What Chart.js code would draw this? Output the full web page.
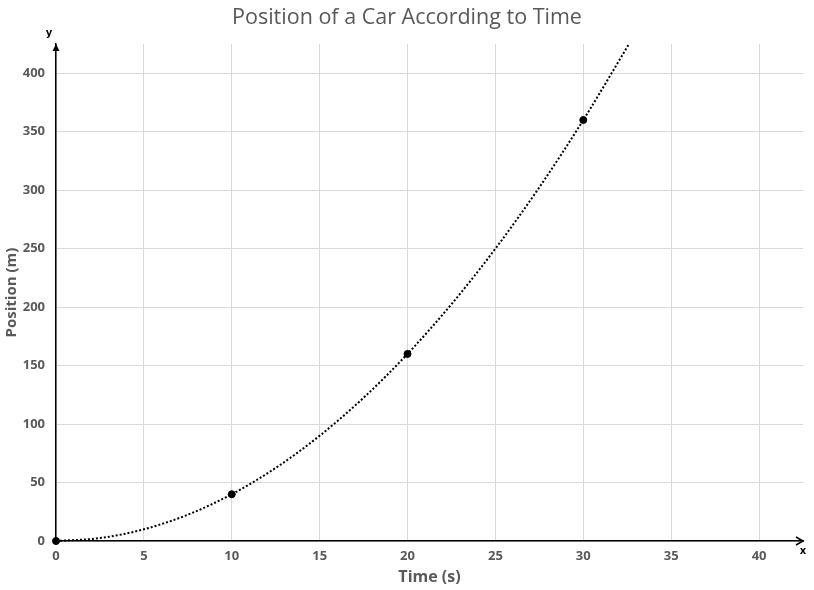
<!DOCTYPE html>
<html>
<head>
<meta charset="utf-8">
<script src="https://cdn.jsdelivr.net/npm/chart.js@4.4.0/dist/chart.umd.min.js"></script>
<style>
  html, body { margin: 0; padding: 0; background: #fff; }
  #wrap { width: 814px; height: 590px; }
</style>
</head>
<body>
<div id="wrap"><canvas id="car-chart"></canvas></div>
<script>
// measured points (time s, position m)
var time_values = [0, 10, 20, 30];
var position_values = [0, 40, 160, 360];

// dotted trend curve
var curve_time = [0, 2.5, 5, 7.5, 10, 12.5, 15, 17.5, 20, 22.5, 25, 27.5, 30, 32.6];
var curve_position = [0, 2.5, 10, 22.5, 40, 62.5, 90, 122.5, 160, 202.5, 250, 302.5, 360, 425];

var x_ticks = [0, 5, 10, 15, 20, 25, 30, 35, 40];
var y_ticks = [0, 50, 100, 150, 200, 250, 300, 350, 400];

var tickColor = '#595959';

var axisArrows = {
    id: 'axisArrows',
    afterDraw: function (chart) {
        var ctx = chart.ctx;
        var xs = chart.scales.x, ys = chart.scales.y;
        var x0 = xs.getPixelForValue(0);
        var y0 = ys.getPixelForValue(0);
        var top = chart.chartArea.top;
        var right = chart.chartArea.right;
        ctx.save();
        ctx.strokeStyle = '#000';
        ctx.fillStyle = '#000';
        ctx.lineWidth = 1.5;
        // y arrow (filled)
        ctx.beginPath();
        ctx.moveTo(x0, top);
        ctx.lineTo(x0 - 3.5, top + 7);
        ctx.lineTo(x0 + 3.5, top + 7);
        ctx.closePath();
        ctx.fill();
        // x arrow (open)
        ctx.beginPath();
        ctx.moveTo(right - 7, y0 - 4);
        ctx.lineTo(right, y0);
        ctx.lineTo(right - 7, y0 + 4);
        ctx.stroke();
        // axis letters
        ctx.font = 'bold 10px "DejaVu Sans"';
        ctx.textAlign = 'center';
        ctx.textBaseline = 'middle';
        ctx.fillText('y', x0 - 7, top - 11);
        ctx.fillText('x', right, y0 + 10);
        ctx.restore();
    }
};

var ctx1 = document.getElementById('car-chart');
var CarChart = new Chart(ctx1, {
    type: 'scatter',
    data: {
        datasets: [{
            label: 'Trend',
            data: curve_time.map(function (t, i) { return { x: t, y: curve_position[i] }; }),
            showLine: true,
            borderColor: '#000',
            borderWidth: 2,
            borderDash: [2, 2],
            cubicInterpolationMode: 'monotone',
            pointRadius: 0,
            clip: false
        }, {
            label: 'Position',
            data: time_values.map(function (t, i) { return { x: t, y: position_values[i] }; }),
            backgroundColor: '#000',
            borderColor: '#000',
            pointRadius: 3.5,
            clip: false
        }]
    },
    options: {
        responsive: true,
        maintainAspectRatio: false,
        animation: false,
        layout: { padding: 0 },
        plugins: {
            legend: { display: false },
            tooltip: { enabled: false },
            title: {
                display: true,
                text: 'Position of a Car According to Time',
                color: '#595959',
                font: { family: 'Open Sans', size: 21.5, weight: 'normal' },
                padding: { top: 5, bottom: 13.2 }
            }
        },
        scales: {
            x: {
                type: 'linear',
                min: 0,
                max: 42.5,
                afterBuildTicks: function (scale) {
                    scale.ticks = x_ticks.map(function (v) { return { value: v }; });
                },
                afterFit: function (scale) {
                    scale.height = 49;
                    scale.paddingRight = 11;
                },
                ticks: {
                    color: tickColor,
                    padding: 7,
                    font: { family: 'Open Sans', size: 13, weight: 'bold' }
                },
                grid: { color: '#d9d9d9', drawTicks: false },
                border: { color: '#000', width: 1.5 },
                title: {
                    display: true,
                    text: 'Time (s)',
                    color: tickColor,
                    font: { family: 'Open Sans', size: 16, weight: 'bold' },
                    padding: { top: 0, bottom: 3 }
                }
            },
            y: {
                type: 'linear',
                min: 0,
                max: 425,
                afterBuildTicks: function (scale) {
                    scale.ticks = y_ticks.map(function (v) { return { value: v }; });
                },
                afterFit: function (scale) { scale.width = 56; },
                ticks: {
                    color: tickColor,
                    padding: 11,
                    font: { family: 'Open Sans', size: 13, weight: 'bold' }
                },
                grid: { color: '#d9d9d9', drawTicks: false },
                border: { color: '#000', width: 1.5 },
                title: {
                    display: true,
                    text: 'Position (m)',
                    color: tickColor,
                    font: { family: 'Open Sans', size: 15, weight: 'bold' },
                    padding: { top: 3, bottom: 0 }
                }
            }
        }
    },
    plugins: [axisArrows]
});
</script>
</body>
</html>
